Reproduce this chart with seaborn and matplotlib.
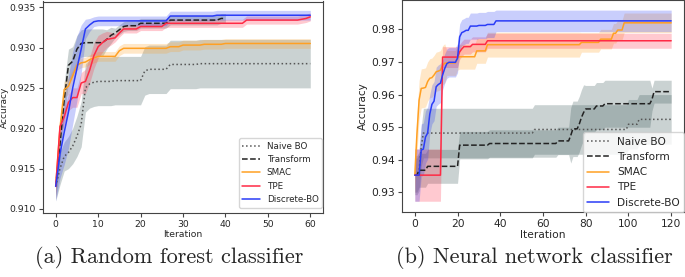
import numpy as np
import pandas as pd
import matplotlib
matplotlib.use("Agg")
import matplotlib.pyplot as plt
import seaborn as sns

sns.set_style("ticks")
plt.rcParams["font.family"] = ["DejaVu Sans"]
plt.rcParams["axes.edgecolor"] = "#444444"
plt.rcParams["axes.linewidth"] = 0.8

methods = ["Naive BO", "Transform", "SMAC", "TPE", "Discrete-BO"]
colors = {"Naive BO": "#555555", "Transform": "#222222", "SMAC": "#ffa023",
          "TPE": "#ff2a45", "Discrete-BO": "#2a3cf7"}
band_colors = {"Naive BO": "darkslategray", "Transform": "darkslategray", "SMAC": "#ffa023",
               "TPE": "#ff2a45", "Discrete-BO": "#2a3cf7"}
styles = {"Naive BO": ":", "Transform": "--", "SMAC": "-", "TPE": "-", "Discrete-BO": "-"}

# ---- (a) Random forest classifier, iterations 0..60 (Transform 0..40)
rf_naive = ([0.9128, 0.9150, 0.9165, 0.9170, 0.9178, 0.9190, 0.9205, 0.9250, 0.9255, 0.9257]
            + [0.9258] * 4 + [0.9259] * 7 + [0.9271] + [0.9273] * 5 + [0.9279] * 7 + [0.9280] * 27)
rf_naive_sd = [0.0018, 0.0020, 0.0018, 0.0020, 0.0022, 0.0025, 0.0028] + [0.0030] * 54
rf_transform = ([0.9128, 0.9180, 0.9235, 0.9278, 0.9283, 0.9298, 0.9305] + [0.9306] * 5
                + [0.9310, 0.9315, 0.9318, 0.9322, 0.9326] + [0.9327] * 3 + [0.9330] * 7
                + [0.9334] * 12 + [0.9336] * 2)
rf_transform_sd = [0.0015, 0.0020, 0.0022, 0.0020, 0.0018, 0.0017, 0.0017] + [0.0017] * 5 \
    + [0.0012, 0.0010] + [0.0006] * 27
rf_smac = ([0.9128, 0.9200, 0.9248, 0.9252, 0.9265, 0.9278, 0.9281, 0.9282, 0.9285, 0.9287]
           + [0.9289] * 5 + [0.9296] + [0.9299] * 11 + [0.9301] * 3 + [0.9303] * 5
           + [0.9304] * 5 + [0.9305] * 21)
rf_smac_sd = [0.0010, 0.0010, 0.0010, 0.0010, 0.0008] + [0.0006] * 56
rf_tpe = ([0.9128, 0.9202, 0.9214, 0.9232, 0.9238, 0.9238, 0.9256, 0.9258, 0.9272, 0.9290,
           0.9301, 0.9306, 0.9310, 0.9311, 0.9312, 0.9318, 0.9323] + [0.9323] * 3
          + [0.9326] * 6 + [0.9330] * 19 + [0.9334] * 13 + [0.9335, 0.9336, 0.9338])
rf_tpe_sd = [0.0015, 0.0010, 0.0010, 0.0010, 0.0012, 0.0012, 0.0013, 0.0015, 0.0016, 0.0016,
             0.0014, 0.0012, 0.0010, 0.0008] + [0.0005] * 47
rf_dbo = ([0.9128, 0.9168, 0.9195, 0.9220, 0.9250, 0.9274, 0.9298, 0.9323, 0.9328, 0.9332]
          + [0.9333] * 17 + [0.9339] * 11 + [0.9340] * 23)
rf_dbo_sd = [0.0018, 0.0030, 0.0040, 0.0045, 0.0045, 0.0040, 0.0030, 0.0012, 0.0008] + [0.0006] * 52

# ---- (b) Neural network classifier, iterations 0..120
nn_naive = ([0.9353, 0.9353, 0.9365, 0.9440, 0.9482] + [0.9482] * 51 + [0.9493] * 44
            + [0.9509] * 5 + [0.9524] * 16)
nn_naive_sd = [0.0060] * 4 + [0.0076] * 117
nn_transform = ([0.9353, 0.9353, 0.9368] + [0.9368] * 3 + [0.9380] * 15 + [0.9445] * 14
                + [0.9450] * 32 + [0.9458] * 6 + [0.9475] + [0.9495] * 3
                + [0.9510, 0.9530, 0.9545] + [0.9556] * 5 + [0.9565] * 4 + [0.9572] * 22
                + [0.9585] + [0.9609] * 9)
nn_transform_sd = [0.0052] * 21 + [0.0042] * 52 + [0.0085] * 7 + [0.0072] * 31 + [0.0035] * 10
nn_smac = ([0.9353, 0.9480, 0.9583, 0.9619, 0.9620, 0.9622, 0.9640, 0.9650, 0.9652, 0.9660,
            0.9670, 0.9672, 0.9675, 0.9690, 0.9696] + [0.9697] * 5 + [0.9713] + [0.9716] * 8
           + [0.9734] * 5 + [0.9753] * 44 + [0.9760] * 9 + [0.9770] * 6 + [0.9788] * 2
           + [0.9798] * 3 + [0.9820] * 23)
nn_smac_sd = [0.0060] * 15 + [0.0038] * 63 + [0.0030] * 43
nn_tpe = [0.9353] * 13 + [0.9715] * 8 + [0.9731, 0.9740] + [0.9747] * 4 + [0.9754] * 7 + [0.9765] * 87
nn_tpe_sd = [0.0080] * 13 + [0.0032] * 8 + [0.0023] * 100
nn_dbo = ([0.9353, 0.9353, 0.9353, 0.9430, 0.9433, 0.9470, 0.9482, 0.9540, 0.9570, 0.9580,
           0.9624, 0.9631, 0.9635, 0.9660, 0.9680, 0.9695, 0.9699] + [0.9699] * 3 + [0.9712]
          + [0.9777, 0.9790, 0.9793] + [0.9797] * 2 + [0.9810] * 4 + [0.9812] * 4
          + [0.9815] * 4 + [0.9826] * 83)
nn_dbo_sd = [0.0080] * 7 + [0.0060] * 6 + [0.0045] * 8 + [0.0040] * 17 + [0.0033] * 83

rf = {"Naive BO": (rf_naive, rf_naive_sd), "Transform": (rf_transform, rf_transform_sd),
      "SMAC": (rf_smac, rf_smac_sd), "TPE": (rf_tpe, rf_tpe_sd), "Discrete-BO": (rf_dbo, rf_dbo_sd)}
nn = {"Naive BO": (nn_naive, nn_naive_sd), "Transform": (nn_transform, nn_transform_sd),
      "SMAC": (nn_smac, nn_smac_sd), "TPE": (nn_tpe, nn_tpe_sd), "Discrete-BO": (nn_dbo, nn_dbo_sd)}


def draw(ax, data, fs):
    for m in methods:
        mean, sd = data[m]
        df = pd.DataFrame({"Iteration": np.arange(len(mean)), "Accuracy": mean, "sd": sd})
        ax.fill_between(df["Iteration"], df["Accuracy"] - df["sd"], df["Accuracy"] + df["sd"],
                        color=band_colors[m], alpha=0.25, linewidth=0)
        sns.lineplot(data=df, x="Iteration", y="Accuracy", ax=ax, color=colors[m],
                     linestyle=styles[m], linewidth=1.1, label=m)
    ax.tick_params(labelsize=fs, length=3, width=0.8, color="#444444", pad=2)
    ax.set_xlabel("Iteration", fontsize=fs, labelpad=1)
    ax.set_ylabel("Accuracy", fontsize=fs * 0.97)


fig = plt.figure(figsize=(6.85, 2.77), dpi=100)
ax1 = fig.add_axes([43 / 685, 64 / 277, 280 / 685, 211.5 / 277])
ax2 = fig.add_axes([402 / 685, 65 / 277, 282 / 685, 212 / 277])

draw(ax1, rf, 6.7)
ax1.set_xlim(-3, 63)
ax1.set_ylim(0.9095, 0.9357)
ax1.set_xticks([0, 10, 20, 30, 40, 50, 60])
ax1.set_yticks([0.910, 0.915, 0.920, 0.925, 0.930, 0.935])
ax1.set_yticklabels(["0.910", "0.915", "0.920", "0.925", "0.930", "0.935"])
ax1.yaxis.set_label_coords(-0.121, 0.5)
ax1.legend(loc="lower right", bbox_to_anchor=(0.997, 0.025), fontsize=6.3,
           borderaxespad=0, edgecolor="#cccccc", fancybox=True)

draw(ax2, nn, 7.7)
ax2.set_xlim(-6, 126)
ax2.set_ylim(0.9240, 0.9890)
ax2.set_xticks([0, 20, 40, 60, 80, 100, 120])
ax2.set_yticks([0.93, 0.94, 0.95, 0.96, 0.97, 0.98])
ax2.set_yticklabels(["0.93", "0.94", "0.95", "0.96", "0.97", "0.98"])
ax2.yaxis.set_label_coords(-0.12, 0.5)
ax2.legend(loc="lower right", bbox_to_anchor=(1.0, 0.0), fontsize=7.6,
           borderaxespad=0, edgecolor="#cccccc", fancybox=True)

fig.text(169 / 685, 0.069, "(a) Random forest classifier", family="cmr10",
         fontsize=16, ha="center", va="center")
fig.text(534 / 685, 0.069, "(b) Neural network classifier", family="cmr10",
         fontsize=16, ha="center", va="center")

fig.savefig("out.png", dpi=100)
